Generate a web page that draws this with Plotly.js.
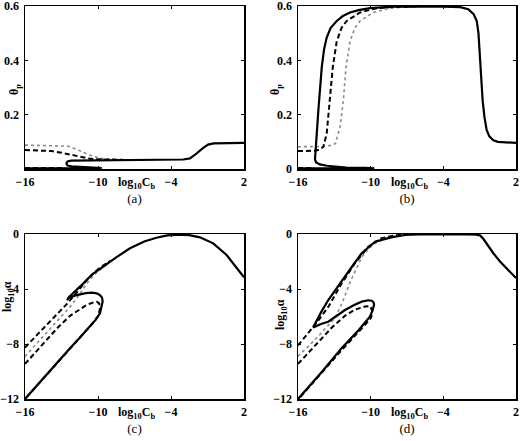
<!DOCTYPE html>
<html>
<head>
<meta charset="utf-8">
<script src="https://cdn.plot.ly/plotly-3.0.1.min.js"></script>
<style>
html,body{margin:0;padding:0;background:#fff;}
#chart{width:520px;height:441px;}
</style>
</head>
<body>
<div id="chart"></div>
<script>
// ---------- tick labels ----------
const xTickVals = [-16, -10, -4, 2];
const xTickText = ['\u221216', '\u221210', '\u22124', '2'];
const thetaTickValsA = [0.2, 0.4, 0.6];
const thetaTickTextA = ['0.2', '0.4', '0.6'];
const thetaTickValsB = [0, 0.2, 0.4, 0.6];
const thetaTickTextB = ['0', '0.2', '0.4', '0.6'];
const alphaTickVals = [0, -4, -8, -12];
const alphaTickText = ['0', '\u22124', '\u22128', '\u221212'];
const panelLabels = ['(a)', '(b)', '(c)', '(d)'];

// ---------- panel (a): theta_p vs log10 Cb ----------
const aSolidX = [2, 1, 0, -0.5, -0.95, -1.35, -1.9, -2.44, -3, -5, -8, -11, -12.2, -12.5, -12.6, -12.5, -12.2, -11.5, -10.5, -9.9, -9.7, -9.9, -11, -13, -16];
const aSolidY = [0.096, 0.096, 0.095, 0.094, 0.09, 0.078, 0.057, 0.039, 0.035, 0.034, 0.033, 0.033, 0.031, 0.028, 0.02, 0.013, 0.01, 0.008, 0.006, 0.005, 0.003, 0.002, 0.002, 0.002, 0.002];
const aDashX = [-16, -14.5, -13.8, -13, -12.44, -11.5, -10.8, -10.2, -9.7, -9, -8];
const aDashY = [0.07, 0.069, 0.066, 0.06, 0.054, 0.045, 0.039, 0.036, 0.035, 0.034, 0.034];
const aDashLowX = [-16, -12.7];
const aDashLowY = [0.004, 0.004];
const aDotX = [-16, -14, -12.9, -12.44, -11.9, -11.34, -10.8, -10.25, -9.43, -8.5, -7.5];
const aDotY = [0.088, 0.087, 0.086, 0.084, 0.075, 0.063, 0.053, 0.045, 0.037, 0.035, 0.034];

// ---------- panel (b) ----------
const bSolidX = [2, 1, 0.5, 0.13, -0.2, -0.42, -0.6, -0.75, -0.88, -0.97, -1.1, -1.24, -1.5, -1.94, -2.6, -4, -8, -10.05, -11, -11.7, -12.3, -12.8, -13.3, -13.63, -13.85, -14.04, -14.2, -14.32, -14.45, -14.55, -14.6, -14.5, -14.2, -13.6, -12.8, -12, -10.5, -9.8, -9.7, -10, -12, -14, -16];
const bSolidY = [0.096, 0.097, 0.1, 0.106, 0.12, 0.143, 0.19, 0.25, 0.34, 0.435, 0.5, 0.545, 0.57, 0.588, 0.596, 0.598, 0.598, 0.592, 0.585, 0.576, 0.563, 0.545, 0.52, 0.484, 0.44, 0.374, 0.3, 0.216, 0.13, 0.06, 0.035, 0.024, 0.017, 0.012, 0.008, 0.005, 0.004, 0.003, 0.002, 0.002, 0.002, 0.002, 0.002];
const bDashX = [-16, -15, -14.6, -14.2, -13.9, -13.63, -13.36, -13.13, -12.8, -12.4, -11.98, -11.4, -10.88, -9.5, -8, -6];
const bDashY = [0.066, 0.066, 0.067, 0.072, 0.082, 0.13, 0.25, 0.374, 0.47, 0.52, 0.545, 0.563, 0.576, 0.592, 0.597, 0.598];
const bDashLowX = [-16, -14.8];
const bDashLowY = [0.004, 0.004];
const bDotX = [-16, -14.5, -13.9, -13.3, -12.9, -12.53, -12.26, -12.04, -11.7, -11.3, -10.88, -9.78, -8.4, -6.5];
const bDotY = [0.082, 0.082, 0.083, 0.087, 0.094, 0.155, 0.25, 0.374, 0.47, 0.52, 0.545, 0.576, 0.592, 0.598];

// ---------- panel (c): log10 alpha ----------
const cSolidX = [2, 1.4, 0.57, -0.53, -1.62, -2.5, -3.4, -4.3, -5.2, -6.2, -7.37, -8.5, -9.57, -10.5, -11.2, -12, -12.4, -12.55, -12.4, -11.75, -11, -10.5, -10.1, -9.84, -9.66, -9.62, -9.7, -9.84, -10.2, -10.66, -11.5, -12.3, -14, -16];
const cSolidY = [-3.15, -2.5, -1.53, -0.68, -0.24, -0.08, -0.04, -0.1, -0.27, -0.55, -1.04, -1.7, -2.38, -2.95, -3.59, -4.25, -4.6, -4.8, -4.65, -4.44, -4.3, -4.27, -4.32, -4.44, -4.65, -4.92, -5.3, -5.77, -6.25, -6.74, -7.55, -8.31, -10.0, -12.0];
const cDashUpX = [-16, -14.77, -13.6, -12.57, -11.7, -10.93, -10.3, -9.84, -9.0];
const cDashUpY = [-8.25, -7.1, -6.05, -5.1, -4.2, -3.35, -2.8, -2.45, -1.95];
const cDashLoopX = [-16, -15, -14.36, -13.3, -12.3, -11.5, -10.93, -10.4, -10.1, -9.9, -9.84, -9.95, -10.3, -11, -12.3, -14, -16];
const cDashLoopY = [-9.45, -8.45, -7.8, -6.8, -5.95, -5.45, -5.16, -4.98, -4.93, -5.05, -5.4, -5.9, -6.35, -7.05, -8.33, -10.0, -12.0];
const cDotX = [-16, -14.5, -13, -12.3, -11.6, -10.93, -10.3, -9.6, -9.0];
const cDotY = [-8.9, -7.45, -6.0, -5.3, -4.5, -3.6, -2.95, -2.4, -2.0];

// ---------- panel (d) ----------
const dSolidX = [2, 1.5, 0.68, 0.13, -0.42, -0.7, -0.97, -1.3, -2, -4, -6, -7.16, -8.3, -9.64, -10.74, -11.4, -12.12, -12.8, -13.5, -14.1, -14.6, -14.74, -14.6, -14.1, -13.5, -12.8, -12.12, -11.4, -10.74, -10.2, -9.91, -9.75, -9.72, -9.85, -10.05, -11, -12.4, -14, -16];
const dSolidY = [-3.2, -2.74, -2.0, -1.4, -0.68, -0.35, -0.1, -0.05, -0.03, -0.02, -0.03, -0.07, -0.25, -0.56, -1.4, -2.2, -3.1, -3.95, -4.8, -5.7, -6.55, -6.79, -6.75, -6.55, -6.38, -5.95, -5.53, -5.18, -4.92, -4.82, -4.85, -4.98, -5.16, -5.55, -6.0, -7.0, -8.3, -10.0, -12.0];
const dDashUpX = [-16, -15, -14.46, -13.5, -12.4, -11.3, -10.2, -9.1, -8, -7];
const dDashUpY = [-8.1, -7.0, -6.45, -5.3, -3.6, -2.13, -0.92, -0.3, -0.1, -0.04];
const dDashLoopX = [-16, -15, -14.3, -13.2, -12.12, -11.3, -10.47, -10.05, -9.86, -9.95, -10.2, -11, -12.4, -14, -16];
const dDashLoopY = [-9.45, -8.5, -7.8, -6.8, -5.95, -5.5, -5.28, -5.24, -5.6, -6.05, -6.35, -7.1, -8.45, -10.05, -12.05];
const dDotX = [-16, -14.5, -12.94, -12.3, -11.7, -11.2, -10.74, -10.2, -9.64, -8.5, -7.5];
const dDotY = [-8.9, -7.6, -6.1, -4.9, -3.5, -2.5, -1.7, -1.1, -0.68, -0.22, -0.08];

// ---------- styles ----------
const SOLID = {color: '#000', width: 2.2};
const DASH = {color: '#000', width: 2, dash: '5px,3px'};
const DOT = {color: '#8a8a8a', width: 1.6, dash: 'dot'};

function tr(x, y, line, xa, ya) {
  return {x: x, y: y, type: 'scatter', mode: 'lines', line: line,
          xaxis: xa, yaxis: ya, hoverinfo: 'skip', showlegend: false};
}

const data = [
  tr(aDotX, aDotY, DOT, 'x', 'y'),
  tr(aDashX, aDashY, DASH, 'x', 'y'),
  tr(aDashLowX, aDashLowY, DASH, 'x', 'y'),
  tr(aSolidX, aSolidY, SOLID, 'x', 'y'),

  tr(bDotX, bDotY, DOT, 'x2', 'y2'),
  tr(bDashX, bDashY, DASH, 'x2', 'y2'),
  tr(bDashLowX, bDashLowY, DASH, 'x2', 'y2'),
  tr(bSolidX, bSolidY, SOLID, 'x2', 'y2'),

  tr(cDotX, cDotY, DOT, 'x3', 'y3'),
  tr(cDashUpX, cDashUpY, DASH, 'x3', 'y3'),
  tr(cDashLoopX, cDashLoopY, DASH, 'x3', 'y3'),
  tr(cSolidX, cSolidY, SOLID, 'x3', 'y3'),

  tr(dDotX, dDotY, DOT, 'x4', 'y4'),
  tr(dDashUpX, dDashUpY, DASH, 'x4', 'y4'),
  tr(dDashLoopX, dDashLoopY, DASH, 'x4', 'y4'),
  tr(dSolidX, dSolidY, SOLID, 'x4', 'y4')
];

const W = 520, H = 441;
const SERIF = 'Liberation Serif, Times New Roman, serif';
const tickFont = {family: SERIF, size: 12, color: '#000', weight: 700};
const annFont = {family: SERIF, size: 12, color: '#000', weight: 700};
const capFont = {family: SERIF, size: 13, color: '#000'};

const colL = [25 / W, 244 / W];
const colR = [298 / W, 516 / W];
const rowT = [1 - 169 / H, 1 - 6 / H];
const rowB = [1 - 399 / H, 1 - 234 / H];

function xax(dom, anchor, caption) {
  return {domain: dom, anchor: anchor, range: [-16, 2], tickvals: xTickVals,
          ticktext: xTickText, tickfont: tickFont, ticklabelstandoff: 1,
          title: {text: caption, font: capFont, standoff: 6},
          ticks: 'inside', ticklen: 3, tickwidth: 1,
          tickcolor: '#000', showline: true, linecolor: '#000', linewidth: 1.5,
          mirror: 'ticks', showgrid: false, zeroline: false, fixedrange: true,
          ticklabeloverflow: 'allow'};
}
function yax(dom, anchor, range, vals, text) {
  return {domain: dom, anchor: anchor, range: range, tickvals: vals, ticktext: text,
          tickfont: tickFont, ticks: 'inside', ticklen: 3, tickwidth: 1,
          tickcolor: '#000', showline: true, linecolor: '#000', linewidth: 1.5,
          mirror: 'ticks', showgrid: false, zeroline: false, fixedrange: true,
          ticklabelstandoff: 2, ticklabeloverflow: 'allow'};
}

const annotations = [];
// inline x-axis names (between the tick labels)
[['x', 1 - 183 / H], ['x2', 1 - 183 / H], ['x3', 1 - 413 / H], ['x4', 1 - 413 / H]].forEach(function (p) {
  annotations.push({xref: p[0], yref: 'paper', x: -6.8, y: p[1],
    text: 'log<sub>10</sub>C<sub>b</sub>', showarrow: false, xanchor: 'center',
    yanchor: 'middle', font: annFont});
});
// y titles
[[15, 90, '\u03b8<sub>p</sub>'], [276, 90, '\u03b8<sub>p</sub>'],
 [8, 297, 'log<sub>10</sub>\u03b1'], [281, 315, 'log<sub>10</sub>\u03b1']].forEach(function (t) {
  annotations.push({xref: 'paper', yref: 'paper', x: t[0] / W, y: 1 - t[1] / H,
    text: t[2], textangle: -90, showarrow: false, xanchor: 'center', yanchor: 'middle',
    font: annFont});
});

const layout = {
  width: W, height: H,
  margin: {l: 0, r: 0, t: 0, b: 0},
  paper_bgcolor: '#fff', plot_bgcolor: '#fff',
  showlegend: false,
  xaxis: xax(colL, 'y', panelLabels[0]),
  yaxis: yax(rowT, 'x', [0, 0.6], thetaTickValsA, thetaTickTextA),
  xaxis2: xax(colR, 'y2', panelLabels[1]),
  yaxis2: yax(rowT, 'x2', [0, 0.6], thetaTickValsB, thetaTickTextB),
  xaxis3: xax(colL, 'y3', panelLabels[2]),
  yaxis3: yax(rowB, 'x3', [-12, 0], alphaTickVals, alphaTickText),
  xaxis4: xax(colR, 'y4', panelLabels[3]),
  yaxis4: yax(rowB, 'x4', [-12, 0], alphaTickVals, alphaTickText),
  annotations: annotations
};

Plotly.newPlot('chart', data, layout, {staticPlot: true, displayModeBar: false});
</script>
</body>
</html>
